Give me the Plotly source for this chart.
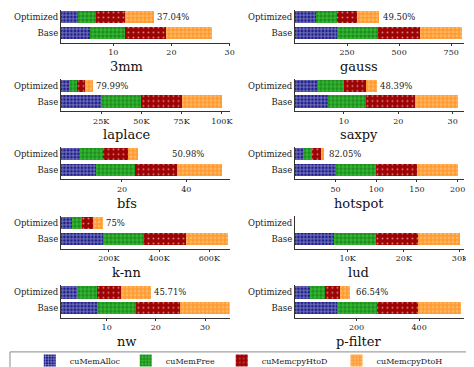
import plotly.graph_objects as go

# ---------------- data ----------------
benchmarks = ["3mm", "gauss", "laplace", "saxpy", "bfs", "hotspot", "k-nn", "lud", "nw", "p-filter"]
categories = ["Base", "Optimized"]
series_names = ["cuMemAlloc", "cuMemFree", "cuMemcpyHtoD", "cuMemcpyDtoH"]

base_cuMemAlloc = [6, 200, 25000, 7, 12, 50, 176000, 7500, 8, 137]
base_cuMemFree = [6, 200, 25000, 7, 12, 50, 165000, 7500, 8, 129]
base_cuMemcpyHtoD = [7, 200, 25000, 9, 13, 50, 167000, 7500, 9, 132]
base_cuMemcpyDtoH = [8, 200, 25000, 8, 14, 50, 165000, 7500, 10, 136]

opt_cuMemAlloc = [4, 100, 5000, 5, 7, 10, 52000, 3, 4, 52]
opt_cuMemFree = [3, 100, 5000, 5, 7, 11, 43000, 3, 4, 48]
opt_cuMemcpyHtoD = [5, 100, 5000, 4, 8, 11, 42000, 3, 5, 47]
opt_cuMemcpyDtoH = [5, 104, 5000, 2, 3, 3.9, 41000, 3, 6, 31.7]

reduction_labels = ["37.04%", "49.50%", "79.99%", "48.39%", "50.98%",
                    "82.05%", "75%", "99.96%", "45.71%", "66.54%"]

tick_values = [
    [10, 20, 30],
    [250, 500, 750],
    [25000, 50000, 75000, 100000],
    [10, 20, 30],
    [20, 40],
    [50, 100, 150, 200],
    [200000, 400000, 600000],
    [10000, 20000, 30000],
    [10, 20, 30],
    [200, 400],
]
tick_labels = [
    ["10", "20", "30"],
    ["250", "500", "750"],
    ["25K", "50K", "75K", "100K"],
    ["10", "20", "30"],
    ["20", "40"],
    ["50", "100", "150", "200"],
    ["200K", "400K", "600K"],
    ["10K", "20K", "30K"],
    ["10", "20", "30"],
    ["200", "400"],
]

base_series = [base_cuMemAlloc, base_cuMemFree, base_cuMemcpyHtoD, base_cuMemcpyDtoH]
opt_series = [opt_cuMemAlloc, opt_cuMemFree, opt_cuMemcpyHtoD, opt_cuMemcpyDtoH]

# ---------------- layout / style ----------------
W, H = 474, 367
FONT = "DejaVu Serif"
col_px = [(53.5, 224.0), (290.0, 461.0)]
title_x_px = [120.0, 354.5]
row_bottom_px = [35.0, 104.3, 173.3, 243.3, 313.3]
plot_h_px = 33.0
x_ranges = [
    [1, 30], [0, 812], [0, 104900], [1, 32.1], [1, 53.5],
    [0, 208], [9500, 681000], [600, 30750], [0.7, 35], [3, 544],
]
label_shift_px = [1, 2, 1, 1, 32, 3, 1, 2, 1, 4]

styles = [
    dict(bg="#1c1c8c", fg="#ffffff", shape="+", size=3.5, solidity=0.4),
    dict(bg="#33bb33", fg="#0e5e0e", shape=".", size=4, solidity=0.55),
    dict(bg="#9e0202", fg="#ffffff", shape=".", size=5, solidity=0.12),
    dict(bg="#ff9a30", fg="#ffd49a", shape=".", size=4, solidity=0.4),
]
legend_ids = ["legend", "legend2", "legend3", "legend4"]
legend_x_px = [22, 119, 216, 332]

fig = go.Figure()
annotations = []

for i, name in enumerate(benchmarks):
    r, c = divmod(i, 2)
    k = "" if i == 0 else str(i + 1)
    xa, ya = "x" + k, "y" + k
    for s in range(4):
        st = styles[s]
        fig.add_trace(go.Bar(
            y=categories,
            x=[base_series[s][i], opt_series[s][i]],
            orientation="h",
            xaxis=xa, yaxis=ya,
            name=series_names[s],
            legendgroup=series_names[s],
            legend=legend_ids[s],
            showlegend=(i == 0),
            width=0.78,
            marker=dict(
                color=st["bg"],
                line=dict(width=0),
                pattern=dict(shape=st["shape"], fgcolor=st["fg"], bgcolor=st["bg"],
                             size=st["size"], solidity=st["solidity"]),
            ),
            hoverinfo="skip",
        ))
    b = row_bottom_px[r]
    x0, x1 = col_px[c]
    fig.layout["xaxis" + k] = dict(
        domain=[x0 / W, x1 / W], anchor=ya, range=x_ranges[i],
        tickvals=tick_values[i], ticktext=tick_labels[i],
        showline=True, linecolor="#333333", linewidth=1,
        ticks="outside", ticklen=2, tickcolor="#333333",
        showgrid=False, zeroline=False,
        tickfont=dict(family=FONT, size=8, color="#222222"),
    )
    fig.layout["yaxis" + k] = dict(
        domain=[1 - b / H, 1 - (b - plot_h_px) / H], anchor=xa,
        type="category", categoryorder="array", categoryarray=categories,
        range=[-0.606, 1.456],
        showline=True, linecolor="#333333", linewidth=1,
        ticks="", showgrid=False, zeroline=False,
        tickfont=dict(family=FONT, size=8.5, color="#222222"),
    )
    opt_total = sum(opt_series[s][i] for s in range(4))
    annotations.append(dict(
        x=opt_total, y="Optimized", xref=xa, yref=ya,
        text=reduction_labels[i], showarrow=False, xanchor="left", yanchor="middle",
        xshift=label_shift_px[i], font=dict(family=FONT, size=8.5, color="#222222"),
    ))
    annotations.append(dict(
        x=title_x_px[c] / W, y=1 - (b + 24) / H, xref="paper", yref="paper",
        text=name, showarrow=False, xanchor="center", yanchor="middle",
        font=dict(family=FONT, size=13, color="#111111"),
    ))

legend_layout = {}
for j, lid in enumerate(legend_ids):
    legend_layout[lid] = dict(
        x=legend_x_px[j] / W, y=1 - 356.7 / H, xanchor="left", yanchor="middle",
        orientation="h", bgcolor="rgba(0,0,0,0)", borderwidth=0,
        font=dict(family=FONT, size=8, color="#222222"),
        itemwidth=30,
    )

fig.update_layout(
    width=W, height=H,
    margin=dict(l=0, r=0, t=0, b=0),
    barmode="stack",
    paper_bgcolor="white", plot_bgcolor="white",
    font=dict(family=FONT, color="#222222"),
    annotations=annotations,
    shapes=[dict(type="rect", xref="paper", yref="paper",
                 x0=2 / W, x1=473 / W, y0=1 - 365.7 / H, y1=1 - 347.7 / H,
                 line=dict(color="#8a8a8a", width=1))],
    **legend_layout,
)

fig.write_html("out.html")
